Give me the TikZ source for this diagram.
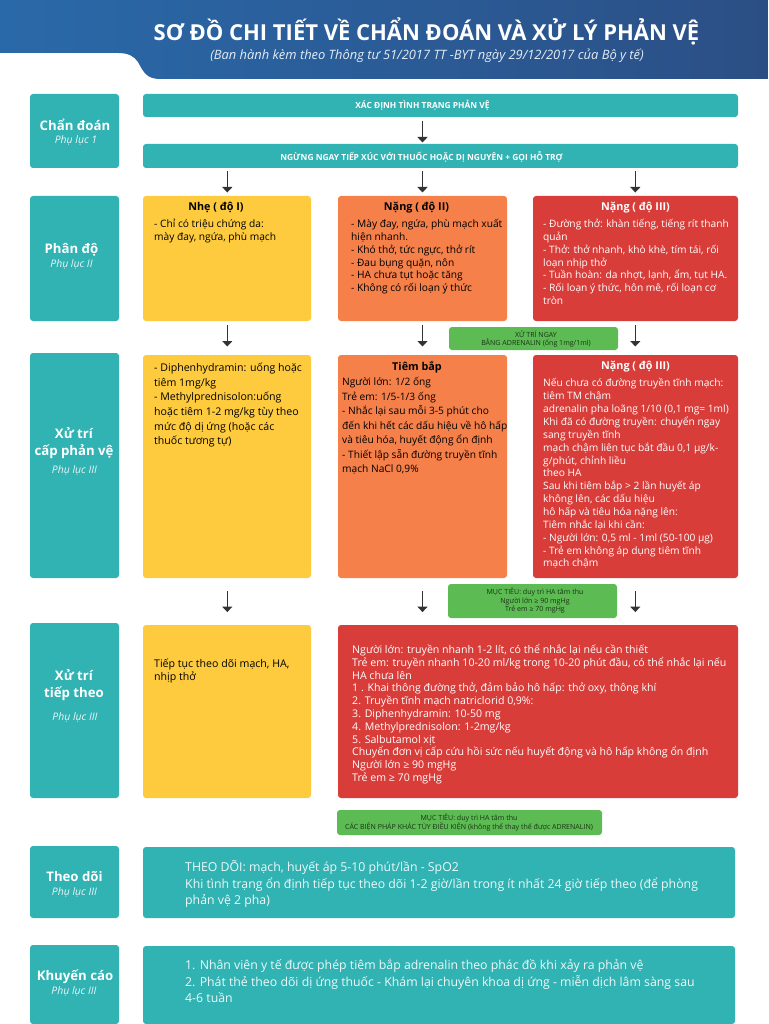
\documentclass[tikz,border=0pt]{standalone}
\usepackage{fontspec}
\setmainfont{Open Sans}
\usetikzlibrary{arrows.meta}
\definecolor{teal1}{HTML}{31B2B3}
\definecolor{yel}{HTML}{FECB3F}
\definecolor{ora}{HTML}{F5804A}
\definecolor{redb}{HTML}{D83D3A}
\definecolor{gre}{HTML}{5CBB52}
\definecolor{hdl}{HTML}{2A69A9}
\definecolor{hdr}{HTML}{2B4F85}
\definecolor{ink}{HTML}{333333}
\tikzset{
 x=1pt,y=-1pt,
 box/.style={inner sep=0pt,outer sep=0pt,rounded corners=3pt},
 arr/.style={draw=ink,line width=1.3pt,-{Triangle[width=10pt,length=5.5pt]}},
 body/.style={anchor=north west,inner sep=0pt,align=left,font=\fontsize{10.2}{12.85}\selectfont},
 bw/.style={body,text=white},
 bk/.style={body,text=black},
 ttl/.style={anchor=center,inner sep=0pt,align=center,font=\fontsize{10.8}{13}\selectfont\bfseries},
 sd/.style={anchor=center,inner sep=0pt,align=center,text=white,font=\fontsize{13.2}{17.5}\selectfont\bfseries},
 sb/.style={anchor=center,inner sep=0pt,text=white!90!teal1,font=\fontsize{10.4}{12}\selectfont\itshape},
 gn/.style={anchor=center,inner sep=0pt,align=center,text=black!72!gre,font=\fontsize{7.05}{8.5}\selectfont},
 tb/.style={anchor=center,inner sep=0pt,text=white,font=\fontsize{8.4}{10}\selectfont\bfseries},
}
\newcommand{\rbox}[6]{\fill[box,#2] (#3,#4) rectangle (#5,#6);
 \node[inner sep=0pt,minimum width=#5pt-#3pt,minimum height=#6pt-#4pt] (#1) at ({(#3+#5)/2},{(#4+#6)/2}) {};}
\begin{document}
\begin{tikzpicture}
\useasboundingbox (0,0) rectangle (768,1024);
\fill[white] (0,0) rectangle (768,1024);
% header
\path[left color=hdl,right color=hdr]
 (0,0) -- (768,0) -- (768,79) -- (160,79)
 .. controls (146,79) and (143,71) .. (138,62)
 .. controls (134,56) and (128,53) .. (118,53) -- (0,53) -- cycle;
\node[anchor=center,inner sep=0pt,text=white,font=\fontsize{22}{24}\selectfont\bfseries] (title) at (426.5,31) {SƠ ĐỒ CHI TIẾT VỀ CHẨN ĐOÁN VÀ XỬ LÝ PHẢN VỆ};
\node[anchor=center,inner sep=0pt,text=white!88!hdl,font=\fontsize{12.9}{14}\selectfont\itshape] (sub) at (427,56) {(Ban hành kèm theo Thông tư 51/2017 TT -BYT ngày 29/12/2017 của Bộ y tế)};
% left column
\rbox{s1}{teal1}{30}{94}{119}{168}
\rbox{s2}{teal1}{30}{196}{119}{321}
\rbox{s3}{teal1}{30}{353}{119}{578}
\rbox{s4}{teal1}{30}{623}{119}{798}
\rbox{s5}{teal1}{30}{846}{119}{918}
\rbox{s6}{teal1}{30}{945}{119}{1024}
\node[sd] (s1a) at (75,125) {Chẩn đoán};
\node[sb] (s1b) at (76,140) {Phụ lục 1};
\node[sd] (s2a) at (71.5,250) {Phân độ};
\node[sb] (s2b) at (71.5,264.5) {Phụ lục II};
\node[sd] (s3a) at (74,443) {Xử trí\\cấp phản vệ};
\node[sb] (s3b) at (74.5,470.5) {Phụ lục III};
\node[sd] (s4a) at (74,685) {Xử trí\\tiếp theo};
\node[sb] (s4b) at (75,717) {Phụ lục III};
\node[sd] (s5a) at (74.5,877) {Theo dõi};
\node[sb] (s5b) at (74.5,892) {Phụ lục III};
\node[sd] (s6a) at (75,976.5) {Khuyến cáo};
\node[sb] (s6b) at (74,991.5) {Phụ lục III};
% top bars
\rbox{d1}{teal1}{143}{94}{738}{117}
\rbox{d2}{teal1}{143}{144}{738}{168}
\node[tb] (d1t) at (422.5,105.5) {XÁC ĐỊNH TÌNH TRẠNG PHẢN VỆ};
\node[tb] (d2t) at (421.5,156.5) {NGỪNG NGAY TIẾP XÚC VỚI THUỐC HOẶC DỊ NGUYÊN + GỌI HỖ TRỢ};
% row 1
\rbox{a1}{yel}{143}{196}{311}{321}
\rbox{a2}{ora}{338}{196}{507}{321}
\rbox{a3}{redb}{533}{196}{738}{321}
\node[ttl,text=black] (a1t) at (216,207.5) {Nhẹ ( độ I)};
\node[ttl,text=black] (a2t) at (416.5,207.5) {Nặng ( độ II)};
\node[ttl,text=white] (a3t) at (635.5,207.5) {Nặng ( độ III)};
\node[bk] (a1b) at (154,219) {- Chỉ có triệu chứng da:\\mày đay, ngứa, phù mạch};
\node[bk] (a2b) at (351,219) {- Mày đay, ngứa, phù mạch xuất\\hiện nhanh.\\- Khó thở, tức ngực, thở rít\\- Đau bụng quặn, nôn\\- HA chưa tụt hoặc tăng\\- Không có rối loạn ý thức};
\node[bw] (a3b) at (543,219) {- Đường thở: khàn tiếng, tiếng rít thanh\\quản\\- Thở: thở nhanh, khò khè, tím tái, rối\\loạn nhịp thở\\- Tuần hoàn: da nhợt, lạnh, ẩm, tụt HA.\\- Rối loạn ý thức, hôn mê, rối loạn cơ\\tròn};
% row 2
\rbox{b1}{yel}{143}{355}{311}{578}
\rbox{b2}{ora}{338}{355}{507}{578}
\rbox{b3}{redb}{533}{355}{738}{578}
\rbox{g1}{gre}{449}{327}{618}{350}
\node[gn] (g1t) at (536,339) {XỬ TRÍ NGAY\\BẰNG ADRENALIN (ống 1mg/1ml)};
\node[bk,font=\fontsize{10.6}{14.55}\selectfont] (b1b) at (154,363) {- Diphenhydramin: uống hoặc\\tiêm 1mg/kg\\- Methylprednisolon:uống\\hoặc tiêm 1-2 mg/kg tùy theo\\mức độ dị ứng (hoặc các\\thuốc tương tự)};
\node[ttl,text=black] (b2t) at (417,367) {Tiêm bắp};
\node[bk,font=\fontsize{10.2}{14.55}\selectfont] (b2b) at (342,377) {Người lớn: 1/2 ống\\Trẻ em: 1/5-1/3 ống\\- Nhắc lại sau mỗi 3-5 phút cho\\đến khi hết các dấu hiệu về hô hấp\\và tiêu hóa, huyết động ổn định\\- Thiết lập sẵn đường truyền tĩnh\\mạch NaCl 0,9\%};
\node[ttl,text=white] (b3t) at (635.5,367) {Nặng ( độ III)};
\node[bw] (b3b) at (543,378.5) {Nếu chưa có đường truyền tĩnh mạch:\\tiêm TM chậm\\adrenalin pha loãng 1/10 (0,1 mg= 1ml)\\Khi đã có đường truyền: chuyển ngay\\sang truyền tĩnh\\mạch chậm liên tục bắt đầu 0,1 µg/k-\\g/phút, chỉnh liều\\theo HA\\Sau khi tiêm bắp > 2 lần huyết áp\\không lên, các dấu hiệu\\hô hấp và tiêu hóa nặng lên:\\Tiêm nhắc lại khi cần:\\- Người lớn: 0,5 ml - 1ml (50-100 µg)\\- Trẻ em không áp dụng tiêm tĩnh\\mạch chậm};
% row 3
\rbox{g2}{gre}{448}{584}{617}{618}
\node[gn] (g2t) at (535,601) {MỤC TIÊU: duy trì HA tâm thu\\Người lớn ≥ 90 mgHg\\Trẻ em ≥ 70 mgHg};
\rbox{c1}{yel}{143}{625}{311}{798}
\rbox{c3}{redb}{338}{625}{738}{798}
\node[bk,font=\fontsize{10.6}{12.85}\selectfont] (c1b) at (154,659) {Tiếp tục theo dõi mạch, HA,\\nhịp thở};
\node[bw,font=\fontsize{10.6}{12.8}\selectfont] (c3b) at (352,644) {Người lớn: truyền nhanh 1-2 lít, có thể nhắc lại nếu cần thiết\\Trẻ em: truyền nhanh 10-20 ml/kg trong 10-20 phút đầu, có thể nhắc lại nếu\\HA chưa lên\\1 . Khai thông đường thở, đảm bảo hô hấp: thở oxy, thông khí\\2. Truyền tĩnh mạch natriclorid 0,9\%:\\3. Diphenhydramin: 10-50 mg\\4. Methylprednisolon: 1-2mg/kg\\5. Salbutamol xịt\\Chuyển đơn vị cấp cứu hồi sức nếu huyết động và hô hấp không ổn định\\Người lớn ≥ 90 mgHg\\Trẻ em ≥ 70 mgHg};
\rbox{g3}{gre}{337}{810}{602}{835}
\node[gn] (g3t) at (469,822.5) {MỤC TIÊU: duy trì HA tâm thu\\CÁC BIỆN PHÁP KHÁC TÙY ĐIỀU KIỆN (không thể thay thế được ADRENALIN)};
% bottom
\rbox{e1}{teal1}{143}{847}{735}{918}
\rbox{e2}{teal1}{143}{946}{735}{1024}
\node[bw,text=white!92!teal1,font=\fontsize{12.3}{16.6}\selectfont] (e1b) at (185,860.5) {THEO DÕI: mạch, huyết áp 5-10 phút/lần - SpO2\\Khi tình trạng ổn định tiếp tục theo dõi 1-2 giờ/lần trong ít nhất 24 giờ tiếp theo (để phòng\\phản vệ 2 pha)};
\node[bw,text=white!92!teal1,font=\fontsize{12.3}{16.6}\selectfont] (e2b) at (185,959) {1. Nhân viên y tế được phép tiêm bắp adrenalin theo phác đồ khi xảy ra phản vệ\\2. Phát thẻ theo dõi dị ứng thuốc - Khám lại chuyên khoa dị ứng - miễn dịch lâm sàng sau\\4-6 tuần};
% arrows
\coordinate (ca) at (227.3,0);
\coordinate (cb) at (422.5,0);
\coordinate (cc) at (635.3,0);
\draw[arr,shorten <=4pt,shorten >=1.3pt] (d1.south -| cb) -- (d2.north -| cb);
\draw[arr,shorten <=3pt,shorten >=3.3pt] (d2.south -| ca) -- (a1.north -| ca);
\draw[arr,shorten <=3pt,shorten >=3.3pt] (d2.south -| cb) -- (a2.north -| cb);
\draw[arr,shorten <=3pt,shorten >=3.3pt] (d2.south -| cc) -- (a3.north -| cc);
\draw[arr,shorten <=4pt,shorten >=8.3pt] (a1.south -| ca) -- (b1.north -| ca);
\draw[arr,shorten <=4pt,shorten >=8.3pt] (a2.south -| cb) -- (b2.north -| cb);
\draw[arr,shorten <=4pt,shorten >=8.3pt] (a3.south -| cc) -- (b3.north -| cc);
\draw[arr,shorten <=12.7pt,shorten >=12.7pt] (b1.south -| ca) -- (c1.north -| ca);
\draw[arr,shorten <=12.7pt,shorten >=12.7pt] (b2.south -| cb) -- (c3.north -| cb);
\draw[arr,shorten <=12.7pt,shorten >=12.7pt] (b3.south -| cc) -- (c3.north -| cc);
\end{tikzpicture}
\end{document}
